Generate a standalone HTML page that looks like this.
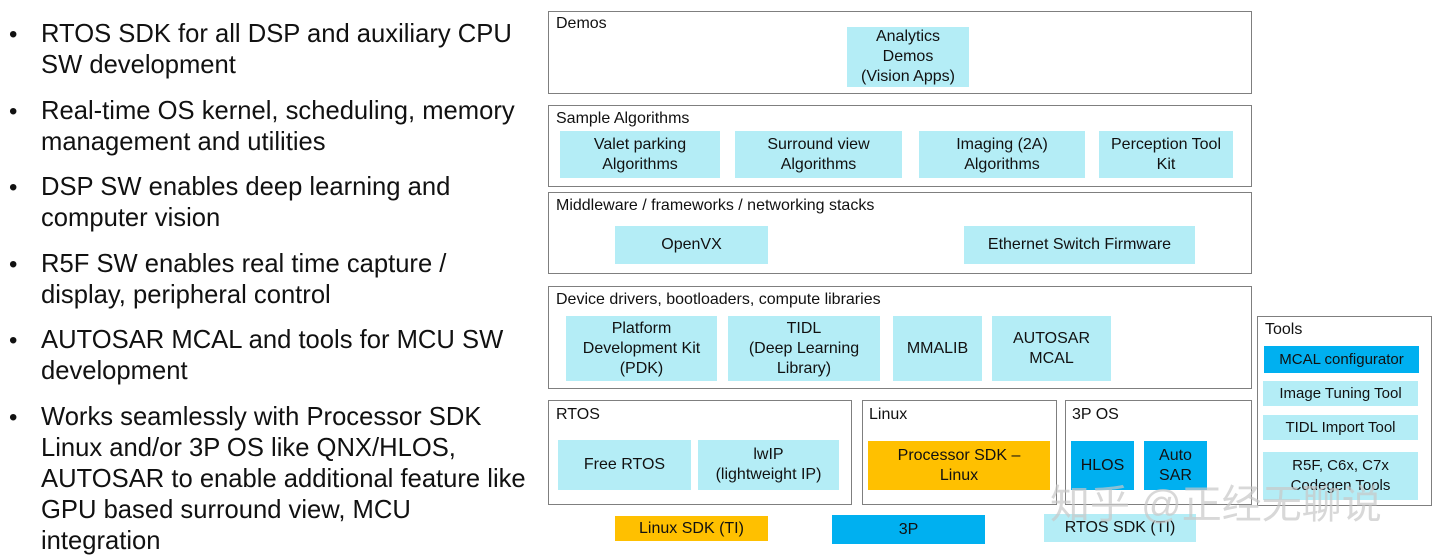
<!DOCTYPE html>
<html><head><meta charset="utf-8"><style>
body{margin:0;width:1440px;height:560px;background:#fff;position:relative;overflow:hidden;font-family:"Liberation Sans",Arial,sans-serif;color:#111}
.b{position:absolute;display:flex;align-items:center;justify-content:center;text-align:center;font-size:16px;line-height:20px}
.c{background:#b4edf6}.d{background:#00b0f0}.o{background:#ffc000}
.f{position:absolute;border:1px solid #7f7f7f;box-sizing:border-box}
.t{position:absolute;font-size:16px}
.l{position:absolute;font-size:25.6px;line-height:31px;left:41px;white-space:nowrap}
.dot{position:absolute;left:9px;font-size:24px;line-height:31px}
</style></head><body>
<div class="dot" style="top:19px">•</div><div class="l" style="top:19px">RTOS SDK for all DSP and auxiliary CPU<br>SW development</div>
<div class="dot" style="top:96px">•</div><div class="l" style="top:96px">Real-time OS kernel, scheduling, memory<br>management and utilities</div>
<div class="dot" style="top:172px">•</div><div class="l" style="top:172px">DSP SW enables deep learning and<br>computer vision</div>
<div class="dot" style="top:249px">•</div><div class="l" style="top:249px">R5F SW enables real time capture /<br>display, peripheral control</div>
<div class="dot" style="top:325px">•</div><div class="l" style="top:325px">AUTOSAR MCAL and tools for MCU SW<br>development</div>
<div class="dot" style="top:402px">•</div><div class="l" style="top:402px">Works seamlessly with Processor SDK<br>Linux and/or 3P OS like QNX/HLOS,<br>AUTOSAR to enable additional feature like<br>GPU based surround view, MCU<br>integration</div>

<div class="f" style="left:548px;top:11px;width:704px;height:83px"></div><div class="t" style="left:556px;top:15px">Demos</div>
<div class="b c" style="left:847px;top:27px;width:122px;height:60px">Analytics<br>Demos<br>(Vision Apps)</div>

<div class="f" style="left:548px;top:105px;width:704px;height:82px"></div><div class="t" style="left:556px;top:110px">Sample Algorithms</div>
<div class="b c" style="left:560px;top:131px;width:160px;height:47px">Valet parking<br>Algorithms</div>
<div class="b c" style="left:735px;top:131px;width:167px;height:47px">Surround view<br>Algorithms</div>
<div class="b c" style="left:919px;top:131px;width:166px;height:47px">Imaging (2A)<br>Algorithms</div>
<div class="b c" style="left:1099px;top:131px;width:134px;height:47px">Perception Tool<br>Kit</div>

<div class="f" style="left:548px;top:192px;width:704px;height:82px"></div><div class="t" style="left:556px;top:197px">Middleware / frameworks / networking stacks</div>
<div class="b c" style="left:615px;top:226px;width:153px;height:38px">OpenVX</div>
<div class="b c" style="left:964px;top:226px;width:231px;height:38px">Ethernet Switch Firmware</div>

<div class="f" style="left:548px;top:286px;width:704px;height:103px"></div><div class="t" style="left:556px;top:291px">Device drivers, bootloaders, compute libraries</div>
<div class="b c" style="left:566px;top:316px;width:151px;height:65px">Platform<br>Development Kit<br>(PDK)</div>
<div class="b c" style="left:728px;top:316px;width:152px;height:65px">TIDL<br>(Deep Learning<br>Library)</div>
<div class="b c" style="left:893px;top:316px;width:89px;height:65px">MMALIB</div>
<div class="b c" style="left:992px;top:316px;width:119px;height:65px">AUTOSAR<br>MCAL</div>

<div class="f" style="left:548px;top:400px;width:304px;height:105px"></div><div class="t" style="left:556px;top:406px">RTOS</div>
<div class="b c" style="left:558px;top:440px;width:133px;height:50px">Free RTOS</div>
<div class="b c" style="left:698px;top:440px;width:141px;height:50px">lwIP<br>(lightweight IP)</div>

<div class="f" style="left:862px;top:400px;width:195px;height:105px"></div><div class="t" style="left:869px;top:406px">Linux</div>
<div class="b o" style="left:868px;top:441px;width:182px;height:49px">Processor SDK –<br>Linux</div>

<div class="f" style="left:1065px;top:400px;width:187px;height:105px"></div><div class="t" style="left:1072px;top:406px">3P OS</div>
<div class="b d" style="left:1071px;top:441px;width:63px;height:49px">HLOS</div>
<div class="b d" style="left:1144px;top:441px;width:63px;height:49px">Auto<br>SAR</div>

<div class="f" style="left:1257px;top:316px;width:175px;height:190px"></div><div class="t" style="left:1265px;top:321px">Tools</div>
<div class="b d" style="left:1264px;top:346px;width:155px;height:27px;font-size:15px">MCAL configurator</div>
<div class="b c" style="left:1263px;top:381px;width:155px;height:25px;font-size:15px">Image Tuning Tool</div>
<div class="b c" style="left:1263px;top:415px;width:155px;height:25px;font-size:15px">TIDL Import Tool</div>
<div class="b c" style="left:1263px;top:452px;width:155px;height:48px;font-size:15px">R5F, C6x, C7x<br>Codegen Tools</div>

<div class="b o" style="left:615px;top:516px;width:153px;height:25px">Linux SDK (TI)</div>
<div class="b d" style="left:832px;top:515px;width:153px;height:29px">3P</div>
<div class="b c" style="left:1044px;top:514px;width:152px;height:28px">RTOS SDK (TI)</div>

<div style="position:absolute;left:1050px;top:472px;font-size:40px;color:rgba(200,200,200,0.7);font-family:'Liberation Sans','Noto Sans CJK SC',sans-serif">知乎 @正经无聊说</div>
</body></html>
